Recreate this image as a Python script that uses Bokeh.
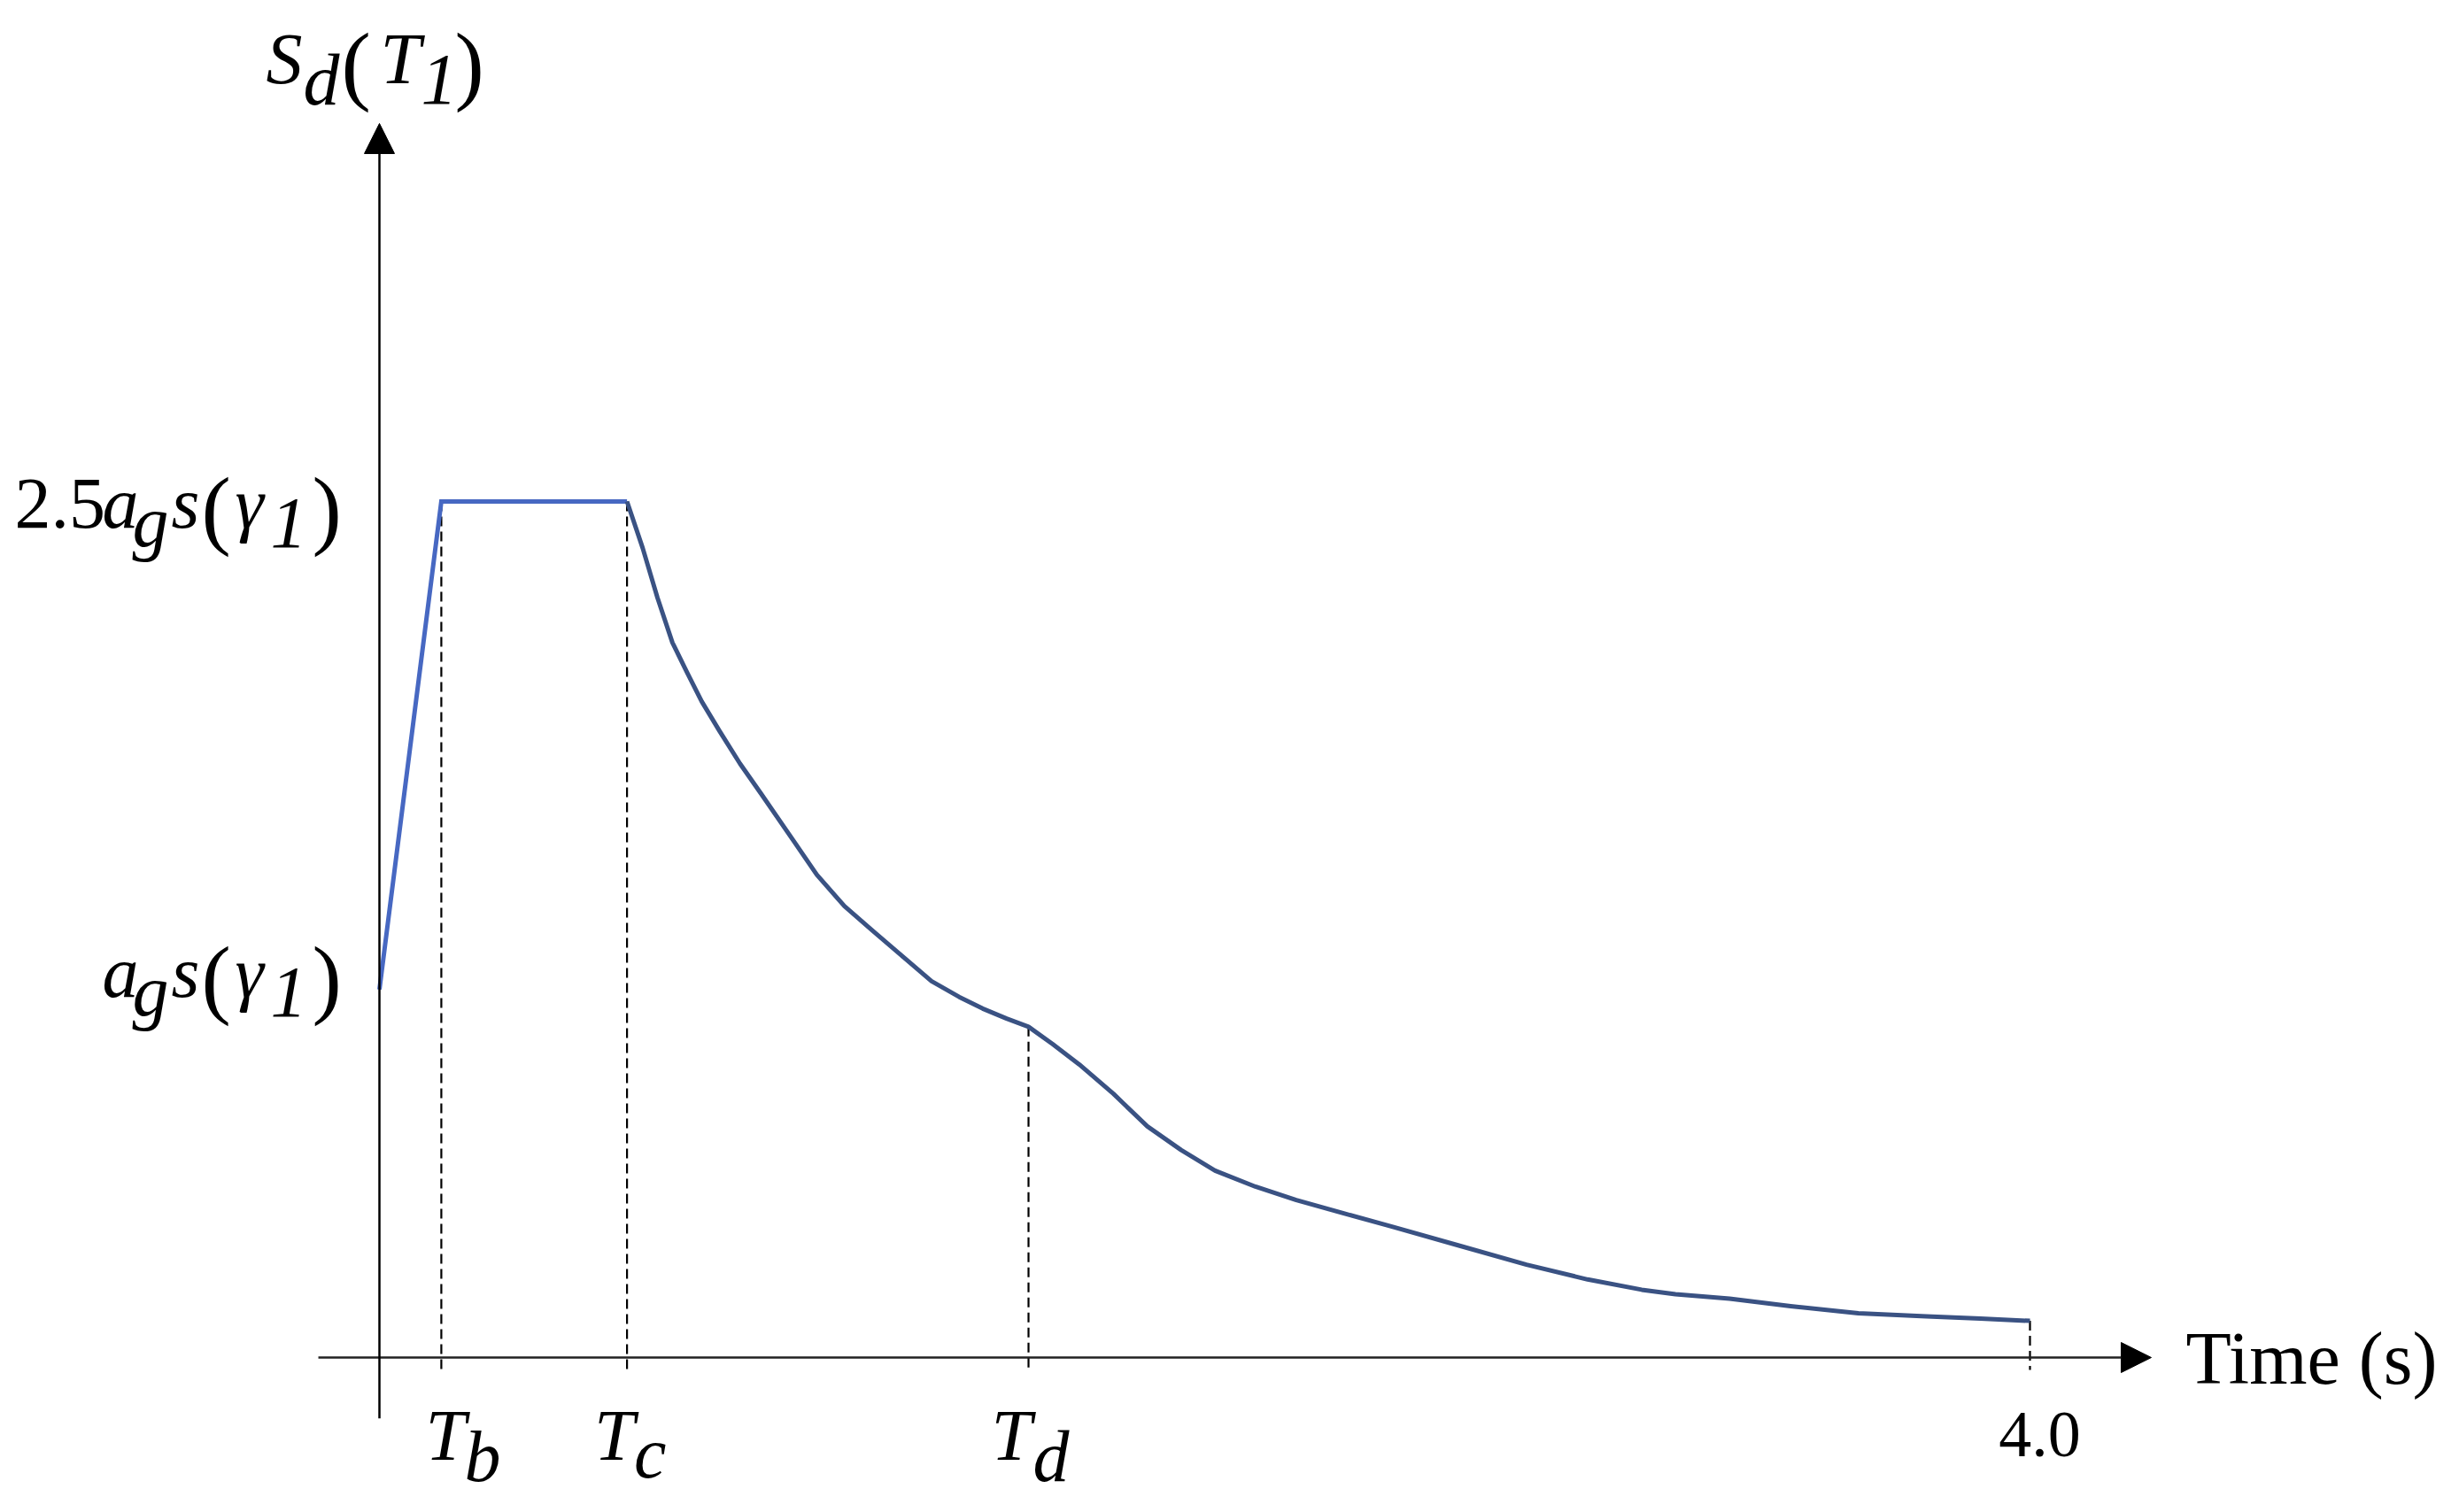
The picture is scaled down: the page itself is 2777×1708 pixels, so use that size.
from bokeh.plotting import figure
from bokeh.models import Range1d, Arrow, NormalHead
from bokeh.core.properties import value
from bokeh.embed import file_html
from bokeh.resources import INLINE
import numpy as np

# ---------------- data ----------------
# period T (s) and spectral ordinate Sd (in units where plateau = 2.5 a_g s)
T_ramp = [0.0, 0.15, 0.6]
S_ramp = [1.075, 2.5, 2.5]

T_decay = [0.600, 0.638, 0.674, 0.710, 0.745, 0.781, 0.824, 0.874, 0.924, 1.003,
           1.060, 1.127, 1.194, 1.271, 1.338, 1.405, 1.462, 1.520, 1.573, 1.631,
           1.696, 1.779, 1.861, 1.943, 2.025, 2.123, 2.222, 2.337, 2.452, 2.616,
           2.780, 2.928, 3.059, 3.141, 3.272, 3.420, 3.584, 3.749, 3.880, 4.000]
S_decay = [2.500, 2.364, 2.218, 2.088, 2.002, 1.916, 1.830, 1.734, 1.648, 1.510,
           1.410, 1.318, 1.248, 1.168, 1.099, 1.053, 1.019, 0.990, 0.966, 0.916,
           0.856, 0.770, 0.675, 0.606, 0.546, 0.499, 0.460, 0.421, 0.383, 0.327,
           0.271, 0.228, 0.198, 0.185, 0.172, 0.150, 0.129, 0.120, 0.114, 0.107]

x_ticks = [0.15, 0.6, 1.573, 4.0]
x_tick_main = ["T", "T", "T", "4.0"]
x_tick_sub = ["b", "c", "d", ""]

y_ticks = [1.075, 2.5]
y_tick_labels = ["a_g s(γ_1)", "2.5a_g s(γ_1)"]

x_axis_label = "Time (s)"
y_axis_label = "S_d(T_1)"

# ---------------- layout constants ----------------
W, H = 2761, 1700
PX_X = 466.0      # px per second
PX_Y = 386.8      # px per unit
ORIG_X = 428.0    # frame px of x = 0 from left
ORIG_Y = 167.0    # frame px of y = 0 from bottom
TXT_SHIFT = -20   # baseline correction for text pieces

x_axis_from, x_axis_to = -0.148, 4.294
y_axis_from, y_axis_to = -0.178, 3.604
guide_bottom = -0.036

BLUE_LIGHT = "#4768C2"
BLUE_DARK = "#3A5283"
FONT = value("Liberation Serif")

p = figure(width=W, height=H, output_backend="svg", toolbar_location=None,
           x_axis_location=None, y_axis_location=None,
           x_range=Range1d(-ORIG_X / PX_X, (W - ORIG_X) / PX_X),
           y_range=Range1d(-ORIG_Y / PX_Y, (H - ORIG_Y) / PX_Y),
           min_border=0, min_border_left=0, min_border_right=0,
           min_border_top=0, min_border_bottom=0)
p.outline_line_color = None
p.grid.visible = False
p.background_fill_color = "white"
p.border_fill_color = "white"

# dashed guide lines from the curve down to the axis
T_all = T_ramp + T_decay[1:]
S_all = S_ramp + S_decay[1:]
guide_top = [float(np.interp(t, T_all, S_all)) for t in x_ticks]
p.segment(x0=x_ticks, y0=guide_top, x1=x_ticks, y1=[guide_bottom] * len(x_ticks),
          line_color="black", line_width=2.2, line_dash="11 6")

# axes as arrows
p.add_layout(Arrow(end=NormalHead(size=34, fill_color="black", line_color="black", line_width=1),
                   x_start=x_axis_from, y_start=0, x_end=x_axis_to, y_end=0,
                   line_color="#222222", line_width=2.5))
p.add_layout(Arrow(end=NormalHead(size=34, fill_color="black", line_color="black", line_width=1),
                   x_start=0, y_start=y_axis_from, x_end=0, y_end=y_axis_to,
                   line_color="black", line_width=2.5))

# spectrum
p.line(T_ramp, S_ramp, line_color=BLUE_LIGHT, line_width=5, line_join="miter")
p.line(T_decay, S_decay, line_color=BLUE_DARK, line_width=5, line_join="round")


def piece(x, y, txt, dx, dy, italic=True, size=82, align="left"):
    p.text(x=[x], y=[y], text=[txt], x_offset=dx, y_offset=dy + TXT_SHIFT,
           text_font=FONT, text_font_style="italic" if italic else "normal",
           text_font_size=value(f"{size}px"), text_align=align,
           text_baseline="alphabetic", text_color="black")


# x tick labels
x_label_dx = [(-18, 26, 132), (-37, 8, 128), (-42, 5, 132)]
for i, t in enumerate(x_ticks):
    if x_tick_sub[i]:
        dT, dS, ySub = x_label_dx[i]
        piece(t, 0, x_tick_main[i], dT, 108)
        piece(t, 0, x_tick_sub[i], dS, ySub)
    else:
        piece(t, 0, x_tick_main[i], 11, 107, italic=False, size=74, align="center")

# y tick labels (built from pieces: main / subscript / parens)
y_label_dy = [1, 22]
for i, v in enumerate(y_ticks):
    d = y_label_dy[i]
    if y_tick_labels[i].startswith("2.5"):
        piece(0, v, "2.5", -412, d, italic=False)
    piece(0, v, "a", -313, d)
    piece(0, v, "g", -279, d + 21)
    piece(0, v, "s", -235, d)
    piece(0, v, "(", -201, d + 6, italic=False, size=100)
    piece(0, v, "γ", -163, d)
    piece(0, v, "1", -123, d + 22)
    piece(0, v, ")", -76, d + 6, italic=False, size=100)

# y axis label  S_d(T_1)
piece(0, y_axis_to, "S", -128, -53)
piece(0, y_axis_to, "d", -86, -29)
piece(0, y_axis_to, "(", -43, -47, italic=False, size=100)
piece(0, y_axis_to, "T", 1, -53)
piece(0, y_axis_to, "1", 47, -29)
piece(0, y_axis_to, ")", 85, -47, italic=False, size=100)

# x axis label
piece(x_axis_to, 0, x_axis_label, 39, 21, italic=False, size=84)

open("out.html", "w").write(file_html(p, INLINE))
